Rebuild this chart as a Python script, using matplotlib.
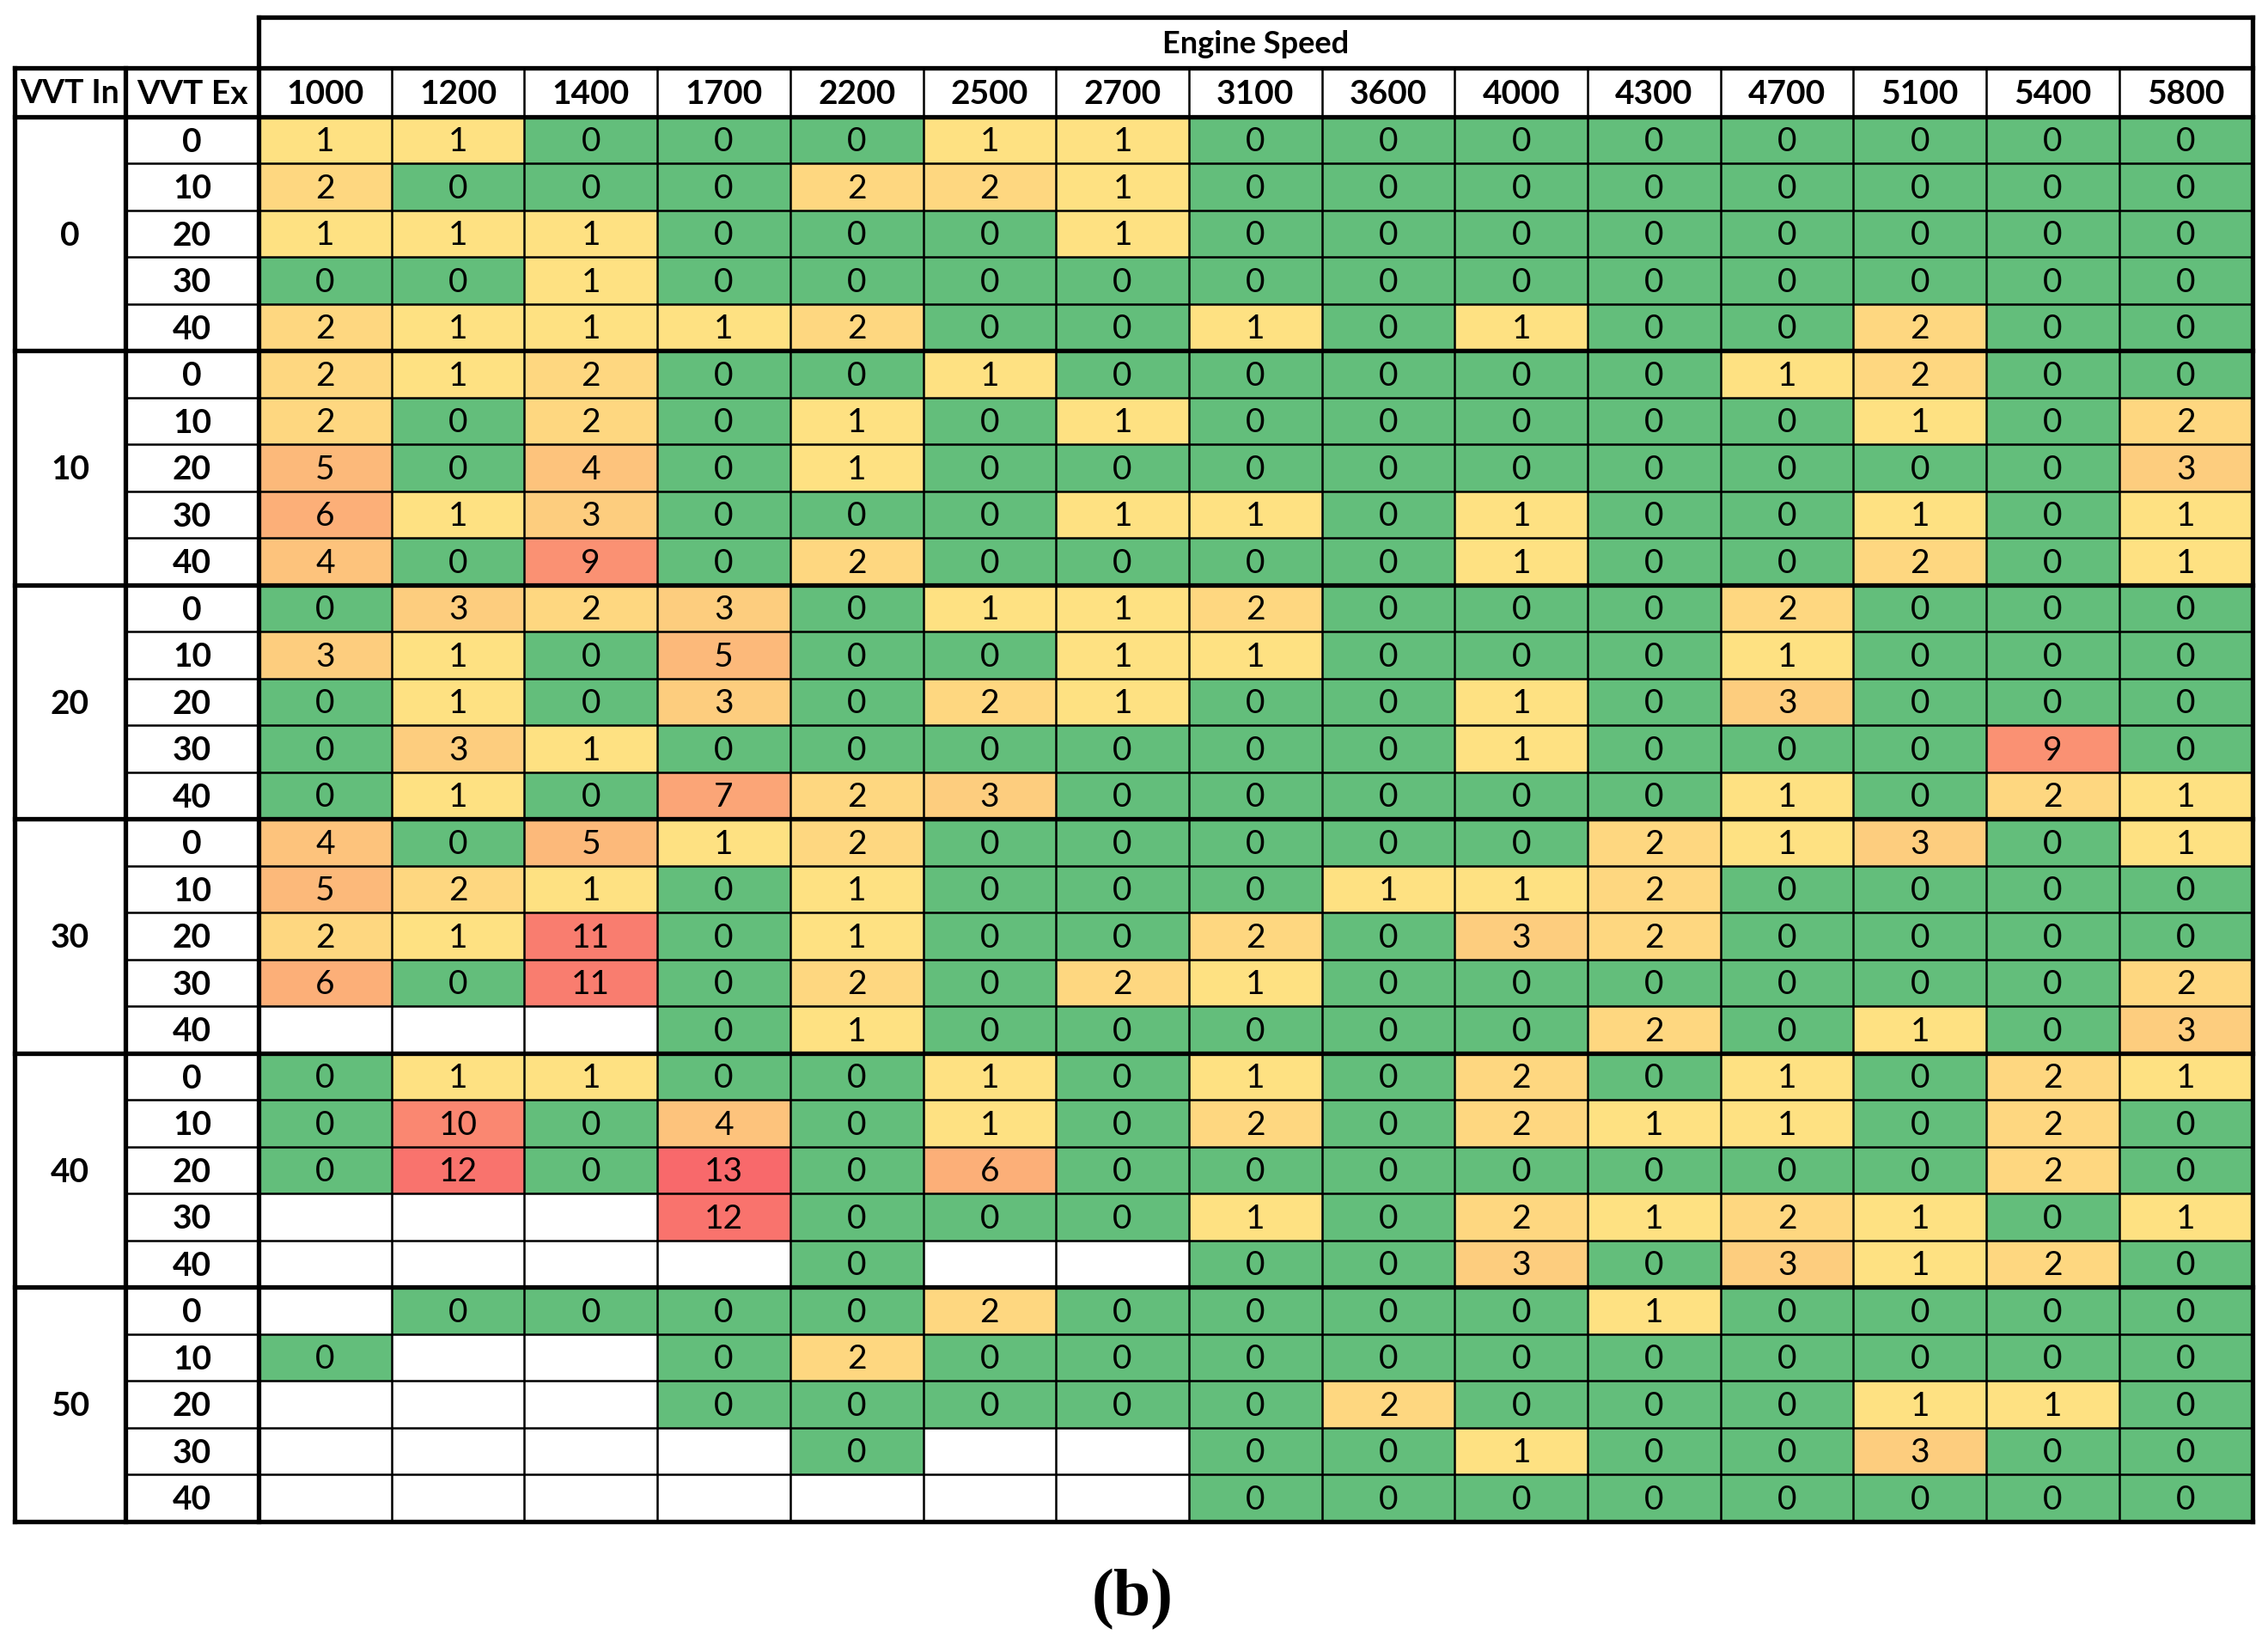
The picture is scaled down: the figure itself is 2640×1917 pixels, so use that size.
import numpy as np
import matplotlib.pyplot as plt
from matplotlib.patches import Rectangle
from matplotlib.colors import LinearSegmentedColormap

# engine speed columns and VVT settings
speeds = [1000, 1200, 1400, 1700, 2200, 2500, 2700, 3100, 3600, 4000, 4300, 4700, 5100, 5400, 5800]
vvt_in = [0, 10, 20, 30, 40, 50]
vvt_ex = [0, 10, 20, 30, 40]

N = None  # empty cell
in0 = [[1, 1, 0, 0, 0, 1, 1, 0, 0, 0, 0, 0, 0, 0, 0],
       [2, 0, 0, 0, 2, 2, 1, 0, 0, 0, 0, 0, 0, 0, 0],
       [1, 1, 1, 0, 0, 0, 1, 0, 0, 0, 0, 0, 0, 0, 0],
       [0, 0, 1, 0, 0, 0, 0, 0, 0, 0, 0, 0, 0, 0, 0],
       [2, 1, 1, 1, 2, 0, 0, 1, 0, 1, 0, 0, 2, 0, 0]]
in10 = [[2, 1, 2, 0, 0, 1, 0, 0, 0, 0, 0, 1, 2, 0, 0],
        [2, 0, 2, 0, 1, 0, 1, 0, 0, 0, 0, 0, 1, 0, 2],
        [5, 0, 4, 0, 1, 0, 0, 0, 0, 0, 0, 0, 0, 0, 3],
        [6, 1, 3, 0, 0, 0, 1, 1, 0, 1, 0, 0, 1, 0, 1],
        [4, 0, 9, 0, 2, 0, 0, 0, 0, 1, 0, 0, 2, 0, 1]]
in20 = [[0, 3, 2, 3, 0, 1, 1, 2, 0, 0, 0, 2, 0, 0, 0],
        [3, 1, 0, 5, 0, 0, 1, 1, 0, 0, 0, 1, 0, 0, 0],
        [0, 1, 0, 3, 0, 2, 1, 0, 0, 1, 0, 3, 0, 0, 0],
        [0, 3, 1, 0, 0, 0, 0, 0, 0, 1, 0, 0, 0, 9, 0],
        [0, 1, 0, 7, 2, 3, 0, 0, 0, 0, 0, 1, 0, 2, 1]]
in30 = [[4, 0, 5, 1, 2, 0, 0, 0, 0, 0, 2, 1, 3, 0, 1],
        [5, 2, 1, 0, 1, 0, 0, 0, 1, 1, 2, 0, 0, 0, 0],
        [2, 1, 11, 0, 1, 0, 0, 2, 0, 3, 2, 0, 0, 0, 0],
        [6, 0, 11, 0, 2, 0, 2, 1, 0, 0, 0, 0, 0, 0, 2],
        [N, N, N, 0, 1, 0, 0, 0, 0, 0, 2, 0, 1, 0, 3]]
in40 = [[0, 1, 1, 0, 0, 1, 0, 1, 0, 2, 0, 1, 0, 2, 1],
        [0, 10, 0, 4, 0, 1, 0, 2, 0, 2, 1, 1, 0, 2, 0],
        [0, 12, 0, 13, 0, 6, 0, 0, 0, 0, 0, 0, 0, 2, 0],
        [N, N, N, 12, 0, 0, 0, 1, 0, 2, 1, 2, 1, 0, 1],
        [N, N, N, N, 0, N, N, 0, 0, 3, 0, 3, 1, 2, 0]]
in50 = [[N, 0, 0, 0, 0, 2, 0, 0, 0, 0, 1, 0, 0, 0, 0],
        [0, N, N, 0, 2, 0, 0, 0, 0, 0, 0, 0, 0, 0, 0],
        [N, N, N, 0, 0, 0, 0, 0, 2, 0, 0, 0, 1, 1, 0],
        [N, N, N, N, 0, N, N, 0, 0, 1, 0, 0, 3, 0, 0],
        [N, N, N, N, N, N, N, 0, 0, 0, 0, 0, 0, 0, 0]]

groups = [in0, in10, in20, in30, in40, in50]
counts = np.array([[np.nan if v is None else v for v in row] for g in groups for row in g], dtype=float)

# Excel-like colour scale: 0 green, then yellow -> red
green = '#63BE7B'
cmap = LinearSegmentedColormap.from_list('yr', ['#FFEB84', '#F8696B'])
vmax = np.nanmax(counts)

plt.rcParams['font.family'] = ['Lato', 'DejaVu Sans']

fig = plt.figure(figsize=(26.4, 19.17), dpi=100)
ax = fig.add_axes([0, 0, 1, 1])
ax.set_xlim(0, 2640)
ax.set_ylim(1917, 0)
ax.axis('off')

# layout (pixels)
x_left, x_ex, x_data = 17, 146, 301
col_w = 154.7
y_top, y_hdr, y_data = 20, 79, 136
row_h = 54.5
n_rows, n_cols = counts.shape
x_right = x_data + n_cols * col_w
y_bottom = y_data + n_rows * row_h

thin = 1.8
thick = 3.8
fs = 28

# cells
for i in range(n_rows):
    for j in range(n_cols):
        v = counts[i, j]
        x = x_data + j * col_w
        y = y_data + i * row_h
        if np.isnan(v):
            fc = 'white'
        elif v == 0:
            fc = green
        else:
            fc = cmap(v / vmax)
        ax.add_patch(Rectangle((x, y), col_w, row_h, facecolor=fc, edgecolor='none', zorder=1))
        if not np.isnan(v):
            ax.text(x + col_w / 2, y + row_h / 2 + 2, f'{int(v)}', ha='center', va='center',
                    fontsize=fs, color='black', zorder=3)

# row labels
for g, vin in enumerate(vvt_in):
    yc = y_data + (g * len(vvt_ex) + len(vvt_ex) / 2) * row_h
    ax.text((x_left + x_ex) / 2, yc + 2, str(vin), ha='center', va='center',
            fontsize=fs, fontweight='bold', zorder=3)
    for k, vex in enumerate(vvt_ex):
        yr = y_data + (g * len(vvt_ex) + k + 0.5) * row_h
        ax.text((x_ex + x_data) / 2, yr + 2, str(vex), ha='center', va='center',
                fontsize=fs, fontweight='bold', zorder=3)

# headers
ax.text((x_left + x_ex) / 2, (y_hdr + y_data) / 2 + 2, 'VVT In', ha='center', va='center',
        fontsize=fs - 1, fontweight='bold', zorder=3)
ax.text((x_ex + x_data) / 2, (y_hdr + y_data) / 2 + 2, 'VVT Ex', ha='center', va='center',
        fontsize=fs, fontweight='bold', zorder=3)
for j, s in enumerate(speeds):
    ax.text(x_data + (j + 0.5) * col_w, (y_hdr + y_data) / 2 + 2, str(s), ha='center', va='center',
            fontsize=fs, fontweight='bold', zorder=3)
ax.text((x_data + x_right) / 2, (y_top + y_hdr) / 2 + 2, 'Engine Speed', ha='center', va='center',
        fontsize=fs - 2, fontweight='bold', zorder=3)

# thin grid lines
for i in range(1, n_rows):
    if i % len(vvt_ex):
        y = y_data + i * row_h
        ax.plot([x_ex, x_right], [y, y], color='black', lw=thin, zorder=4)
for j in range(1, n_cols):
    x = x_data + j * col_w
    ax.plot([x, x], [y_hdr, y_bottom], color='black', lw=thin, zorder=4)

# thick lines
for g in range(len(vvt_in) + 1):
    y = y_data + g * len(vvt_ex) * row_h
    ax.plot([x_left, x_right], [y, y], color='black', lw=thick, zorder=5, solid_capstyle='projecting')
ax.plot([x_left, x_right], [y_hdr, y_hdr], color='black', lw=thick, zorder=5, solid_capstyle='projecting')
ax.plot([x_data, x_right], [y_top, y_top], color='black', lw=thick, zorder=5, solid_capstyle='projecting')
for x in [x_left, x_ex]:
    ax.plot([x, x], [y_hdr, y_bottom], color='black', lw=thick, zorder=5, solid_capstyle='projecting')
for x in [x_data, x_right]:
    ax.plot([x, x], [y_top, y_bottom], color='black', lw=thick, zorder=5, solid_capstyle='projecting')

# panel label
ax.text(1318, 1862, '(b)', ha='center', va='center', fontsize=56, fontweight='bold',
        family=['Liberation Serif', 'DejaVu Serif'])

fig.savefig('out.png', dpi=100, facecolor='white')
